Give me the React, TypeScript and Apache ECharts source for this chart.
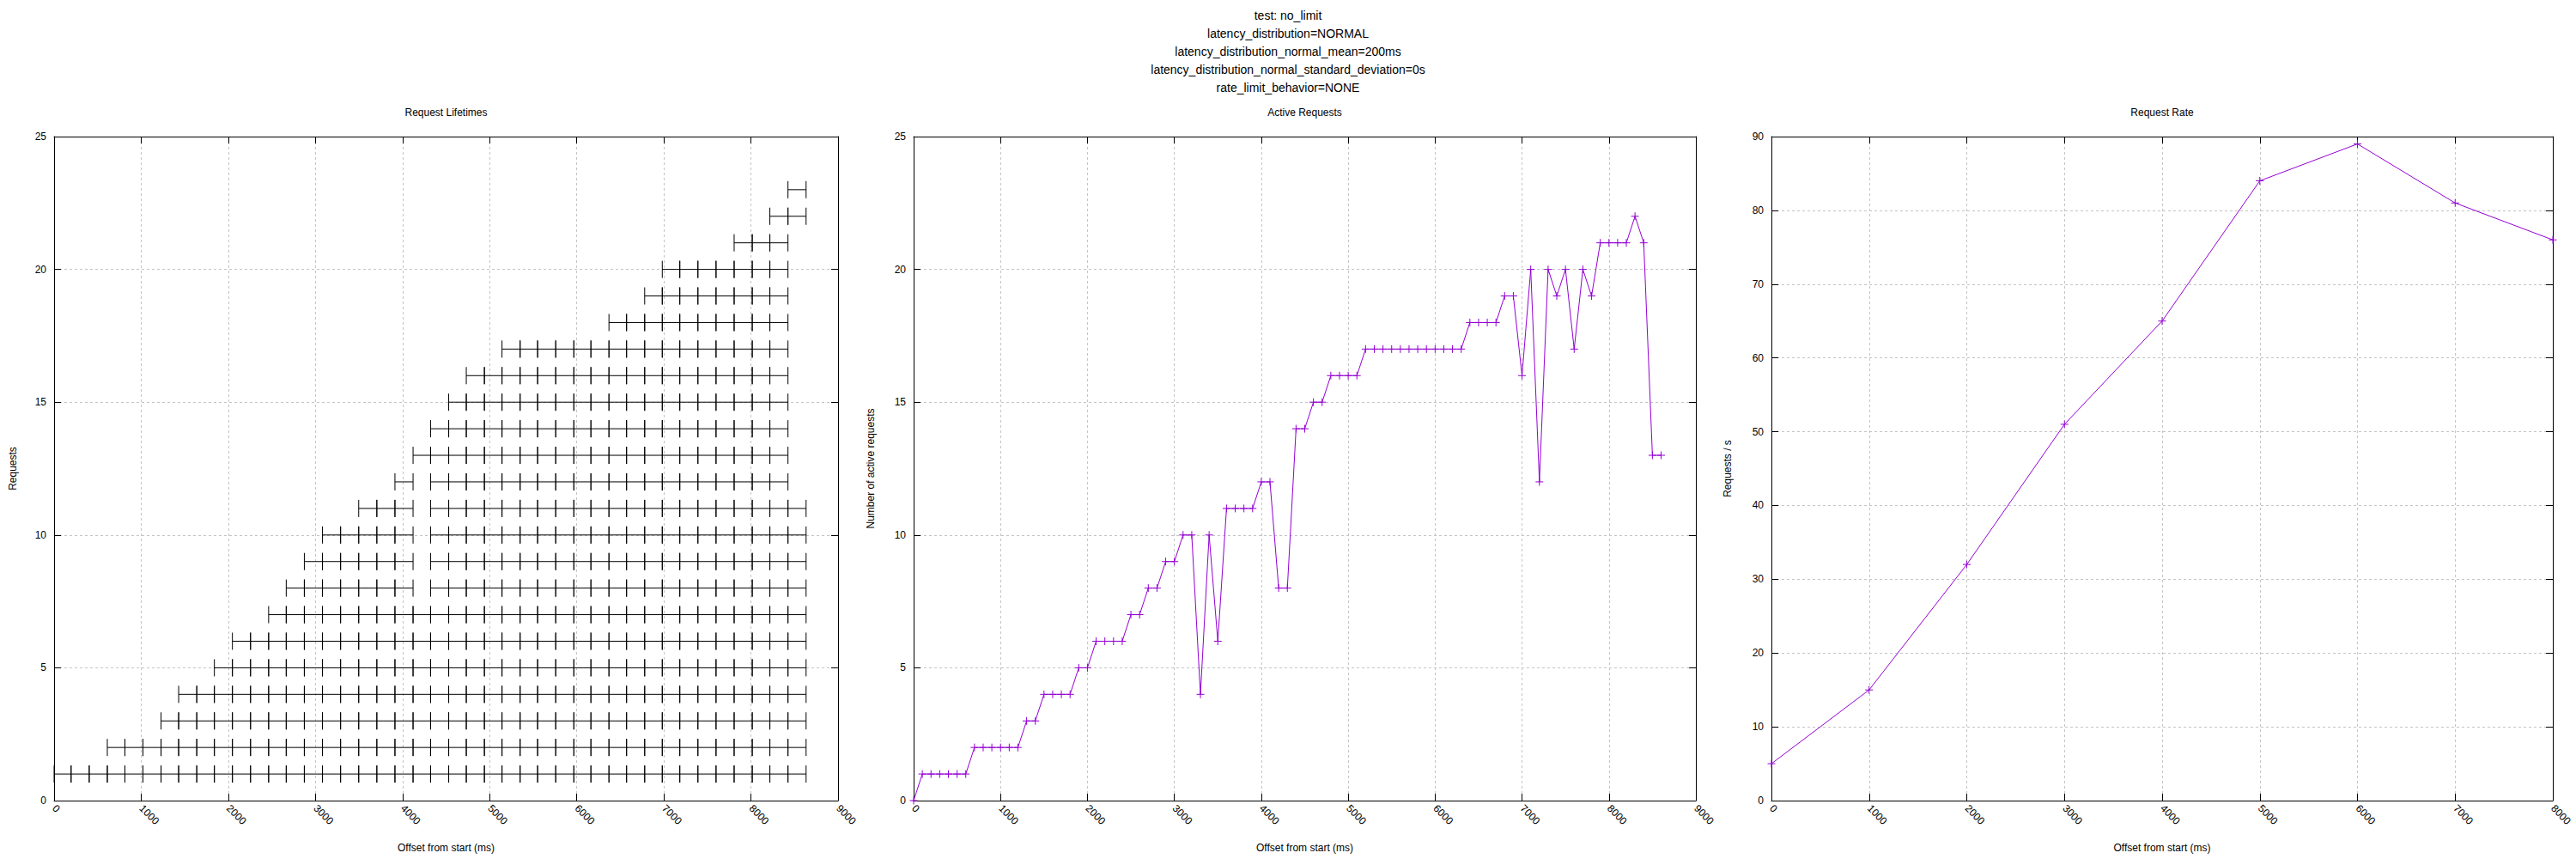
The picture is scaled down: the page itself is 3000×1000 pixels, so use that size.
import React, { useEffect, useRef } from 'react';
import * as echarts from 'echarts';

const FONT = '"Liberation Sans", Arial, sans-serif';
const PURPLE = '#9400d3';

const titleLines = [
  'test: no_limit',
  'latency_distribution=NORMAL',
  'latency_distribution_normal_mean=200ms',
  'latency_distribution_normal_standard_deviation=0s',
  'rate_limit_behavior=NONE',
];

// Request Lifetimes: times (ms) where one request ends and the next one starts
const tickTimes = [
  0, 195, 403, 611, 813, 1020, 1228, 1430, 1638, 1840, 2047, 2255, 2463, 2665, 2873,
  3081, 3289, 3497, 3705, 3913, 4121, 4322, 4530, 4732, 4940, 5142, 5350, 5551, 5759,
  5967, 6163, 6370, 6572, 6780, 6982, 7183, 7391, 7599, 7807, 8015, 8217, 8425, 8633,
];

// busy spans per row (row 1 first)
const rowSpans: [number, number][][] = [
  [[0, 8633]],
  [[611, 8633]],
  [[1228, 8633]],
  [[1430, 8633]],
  [[1840, 8633]],
  [[2047, 8633]],
  [[2463, 8633]],
  [[2665, 4121], [4322, 8633]],
  [[2873, 4121], [4322, 8633]],
  [[3081, 4121], [4322, 8633]],
  [[3497, 4121], [4322, 8633]],
  [[3913, 4121], [4322, 8425]],
  [[4121, 8425]],
  [[4322, 8425]],
  [[4530, 8425]],
  [[4732, 8425]],
  [[5142, 8425]],
  [[6370, 8425]],
  [[6780, 8425]],
  [[6982, 8425]],
  [[7807, 8425]],
  [[8217, 8633]],
  [[8425, 8633]],
];

// Active Requests
const activeTimes = [
  0, 100, 200, 300, 400, 500, 600, 700, 800, 900, 1000, 1100, 1200, 1300, 1400, 1500,
  1600, 1700, 1800, 1900, 2000, 2100, 2200, 2300, 2400, 2500, 2600, 2700, 2800, 2900,
  3000, 3100, 3200, 3300, 3400, 3500, 3600, 3700, 3800, 3900, 4000, 4100, 4200, 4300,
  4400, 4500, 4600, 4700, 4800, 4900, 5000, 5100, 5200, 5300, 5400, 5500, 5600, 5700,
  5800, 5900, 6000, 6100, 6200, 6300, 6400, 6500, 6600, 6700, 6800, 6900, 7000, 7100,
  7200, 7300, 7400, 7500, 7600, 7700, 7800, 7900, 8000, 8100, 8200, 8300, 8400, 8500,
  8600,
];
const activeValues = [
  0, 1, 1, 1, 1, 1, 1, 2, 2, 2, 2, 2, 2, 3, 3, 4,
  4, 4, 4, 5, 5, 6, 6, 6, 6, 7, 7, 8, 8, 9,
  9, 10, 10, 4, 10, 6, 11, 11, 11, 11, 12, 12, 8, 8,
  14, 14, 15, 15, 16, 16, 16, 16, 17, 17, 17, 17, 17, 17,
  17, 17, 17, 17, 17, 17, 18, 18, 18, 18, 19, 19, 16, 20,
  12, 20, 19, 20, 17, 20, 19, 21, 21, 21, 21, 22, 21, 13,
  13,
];

// Request Rate
const rateTimes = [0, 1000, 2000, 3000, 4000, 5000, 6000, 7000, 8000];
const rateValues = [5, 15, 32, 51, 65, 84, 89, 81, 76];

const GRIDS = [
  { left: 63, top: 159, width: 913, height: 773 },
  { left: 1064, top: 159, width: 911, height: 773 },
  { left: 2063, top: 159, width: 910, height: 773 },
];

const txt = { color: '#000', fontFamily: FONT, fontSize: 12 };

const xAxisBottom = (gridIndex: number, max: number) => ({
  type: 'value',
  gridIndex,
  position: 'bottom',
  min: 0,
  max,
  interval: 1000,
  name: 'Offset from start (ms)',
  nameLocation: 'middle',
  nameGap: 49,
  nameTextStyle: txt,
  axisLine: { show: true, onZero: false, lineStyle: { color: '#000', width: 1 } },
  axisTick: { show: true, inside: true, length: 8, lineStyle: { color: '#000' } },
  axisLabel: {
    ...txt,
    rotate: -45,
    margin: 7,
    showMinLabel: true,
    showMaxLabel: true,
    formatter: (v: number) => String(v),
  },
  splitLine: { show: true, lineStyle: { color: '#c4c4c4', type: [3, 3], width: 1 } },
});

const xAxisTop = (gridIndex: number, max: number) => ({
  type: 'value',
  gridIndex,
  position: 'top',
  min: 0,
  max,
  interval: 1000,
  axisLine: { show: true, onZero: false, lineStyle: { color: '#000', width: 1 } },
  axisTick: { show: true, inside: true, length: 8, lineStyle: { color: '#000' } },
  axisLabel: { show: false },
  splitLine: { show: false },
});

const yAxisLeft = (gridIndex: number, max: number, interval: number, name: string, gap: number) => ({
  type: 'value',
  gridIndex,
  position: 'left',
  min: 0,
  max,
  interval,
  name,
  nameLocation: 'middle',
  nameGap: gap,
  nameTextStyle: txt,
  axisLine: { show: true, onZero: false, lineStyle: { color: '#000', width: 1 } },
  axisTick: { show: true, inside: true, length: 8, lineStyle: { color: '#000' } },
  axisLabel: { ...txt, margin: 9, showMinLabel: true, showMaxLabel: true },
  splitLine: { show: true, lineStyle: { color: '#c4c4c4', type: [3, 3], width: 1 } },
});

const yAxisRight = (gridIndex: number, max: number, interval: number) => ({
  type: 'value',
  gridIndex,
  position: 'right',
  min: 0,
  max,
  interval,
  axisLine: { show: true, onZero: false, lineStyle: { color: '#000', width: 1 } },
  axisTick: { show: true, inside: true, length: 8, lineStyle: { color: '#000' } },
  axisLabel: { show: false },
  splitLine: { show: false },
});

const plusSymbol = 'path://M0,5L10,5M5,0L5,10';

const App: React.FC = () => {
  const chartRef = useRef<HTMLDivElement>(null);

  useEffect(() => {
    if (!chartRef.current) return;
    const chart = echarts.init(chartRef.current, null, { renderer: 'svg' });

    // one item per request: [start, end, row]
    const requests: number[][] = [];
    rowSpans.forEach((spans, i) => {
      spans.forEach(([a, b]) => {
        const inSpan = tickTimes.filter((t) => t >= a && t <= b);
        for (let k = 0; k < inSpan.length - 1; k++) {
          requests.push([inSpan[k], inSpan[k + 1], i + 1]);
        }
      });
    });

    const subTitle = (text: string, g: { left: number; width: number }) => ({
      text,
      left: g.left + g.width / 2,
      top: 125,
      textAlign: 'center',
      padding: 0,
      textStyle: { ...txt, fontWeight: 'normal' },
    });

    const options: any = {
      animation: false,
      backgroundColor: '#fff',
      title: [
        {
          text: titleLines.join('\n'),
          left: 'center',
          top: 7,
          padding: 0,
          textStyle: { color: '#000', fontFamily: FONT, fontSize: 14, lineHeight: 21, fontWeight: 'normal' },
        },
        subTitle('Request Lifetimes', GRIDS[0]),
        subTitle('Active Requests', GRIDS[1]),
        subTitle('Request Rate', GRIDS[2]),
      ],
      grid: GRIDS.map((g) => ({ ...g, show: false, containLabel: false })),
      xAxis: [
        xAxisBottom(0, 9000),
        xAxisBottom(1, 9000),
        xAxisBottom(2, 8000),
        xAxisTop(0, 9000),
        xAxisTop(1, 9000),
        xAxisTop(2, 8000),
      ],
      yAxis: [
        yAxisLeft(0, 25, 5, 'Requests', 42),
        yAxisLeft(1, 25, 5, 'Number of active requests', 44),
        yAxisLeft(2, 90, 10, 'Requests / s', 45),
        yAxisRight(0, 25, 5),
        yAxisRight(1, 25, 5),
        yAxisRight(2, 90, 10),
      ],
      series: [
        {
          type: 'custom',
          xAxisIndex: 0,
          yAxisIndex: 0,
          silent: true,
          encode: { x: [0, 1], y: 2 },
          data: requests,
          renderItem: (params: any, api: any) => {
            const s = api.coord([api.value(0), api.value(2)]);
            const e = api.coord([api.value(1), api.value(2)]);
            const h = 10;
            const style = { stroke: '#000', lineWidth: 1 };
            return {
              type: 'group',
              children: [
                { type: 'line', shape: { x1: s[0], y1: s[1], x2: e[0], y2: e[1] }, style },
                { type: 'line', shape: { x1: s[0], y1: s[1] - h, x2: s[0], y2: s[1] + h }, style },
                { type: 'line', shape: { x1: e[0], y1: e[1] - h, x2: e[0], y2: e[1] + h }, style },
              ],
            };
          },
        },
        {
          type: 'line',
          xAxisIndex: 1,
          yAxisIndex: 1,
          silent: true,
          data: activeTimes.map((t, i) => [t, activeValues[i]]),
          symbol: plusSymbol,
          symbolSize: 9,
          showAllSymbol: true,
          lineStyle: { color: PURPLE, width: 1 },
          itemStyle: { color: PURPLE, borderColor: PURPLE, borderWidth: 1 },
        },
        {
          type: 'line',
          xAxisIndex: 2,
          yAxisIndex: 2,
          silent: true,
          data: rateTimes.map((t, i) => [t, rateValues[i]]),
          symbol: plusSymbol,
          symbolSize: 9,
          showAllSymbol: true,
          lineStyle: { color: PURPLE, width: 1 },
          itemStyle: { color: PURPLE, borderColor: PURPLE, borderWidth: 1 },
        },
      ],
    };

    chart.setOption(options);

    return () => {
      chart.dispose();
    };
  }, []);

  return (
    <div
      ref={chartRef}
      style={{ position: 'fixed', left: 0, top: 0, width: 3000, height: 1000, background: '#fff' }}
    />
  );
};

export default App;
